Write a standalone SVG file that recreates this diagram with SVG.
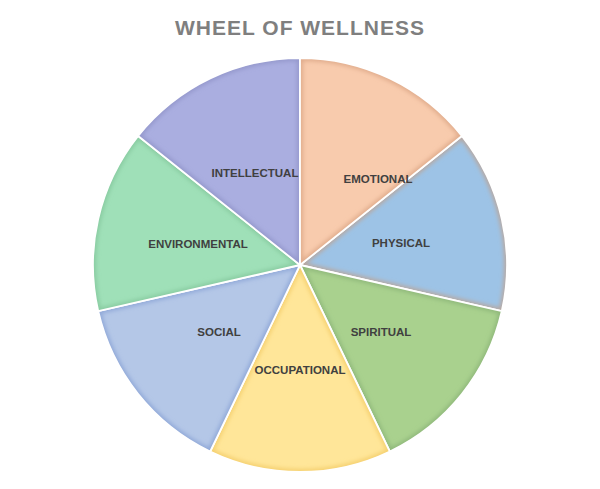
<svg xmlns="http://www.w3.org/2000/svg" width="600" height="489" viewBox="0 0 600 489">
<style>
.title{font-family:"Liberation Sans",Arial,sans-serif;font-weight:bold;font-size:21px;fill:#7f7f7f;letter-spacing:1px;text-anchor:middle}
.lbl{font-family:"Liberation Sans",Arial,sans-serif;font-weight:bold;font-size:11.5px;fill:#404040;text-anchor:middle}
.edge{fill:none;stroke-width:6;filter:url(#soft)}
.sep{fill:none;stroke:#fff;stroke-width:1.8;stroke-linejoin:round}
</style>
<defs>
<filter id="soft" x="-10%" y="-10%" width="120%" height="120%"><feGaussianBlur stdDeviation="2"/></filter>
<path id="p0" d="M300,265 L300,58 A207,207 0 0 1 461.84,135.94 Z"/>
<path id="p1" d="M300,265 L461.84,135.94 A207,207 0 0 1 501.81,311.06 Z"/>
<path id="p2" d="M300,265 L501.81,311.06 A207,207 0 0 1 389.81,451.5 Z"/>
<path id="p3" d="M300,265 L389.81,451.5 A207,207 0 0 1 210.19,451.5 Z"/>
<path id="p4" d="M300,265 L210.19,451.5 A207,207 0 0 1 98.19,311.06 Z"/>
<path id="p5" d="M300,265 L98.19,311.06 A207,207 0 0 1 138.16,135.94 Z"/>
<path id="p6" d="M300,265 L138.16,135.94 A207,207 0 0 1 300,58 Z"/>
<clipPath id="c0"><use href="#p0"/></clipPath>
<clipPath id="c1"><use href="#p1"/></clipPath>
<clipPath id="c2"><use href="#p2"/></clipPath>
<clipPath id="c3"><use href="#p3"/></clipPath>
<clipPath id="c4"><use href="#p4"/></clipPath>
<clipPath id="c5"><use href="#p5"/></clipPath>
<clipPath id="c6"><use href="#p6"/></clipPath>
</defs>
<text class="title" x="300" y="35">WHEEL OF WELLNESS</text>
<g id="physical">
<use href="#p1" fill="#9dc3e6"/>
<g clip-path="url(#c1)"><use href="#p1" class="edge" stroke="#b8a8a0"/></g>
<use href="#p1" class="sep"/>
<text class="lbl" x="401" y="247">PHYSICAL</text>
</g>
<g id="spiritual">
<use href="#p2" fill="#a9d18e"/>
<g clip-path="url(#c2)"><use href="#p2" class="edge" stroke="#8fb87a"/></g>
<use href="#p2" class="sep"/>
<text class="lbl" x="381" y="336">SPIRITUAL</text>
</g>
<g id="occupational">
<use href="#p3" fill="#ffe699"/>
<g clip-path="url(#c3)"><use href="#p3" class="edge" stroke="#f5d070"/></g>
<use href="#p3" class="sep"/>
<text class="lbl" x="300" y="374">OCCUPATIONAL</text>
</g>
<g id="social">
<use href="#p4" fill="#b4c7e7"/>
<g clip-path="url(#c4)"><use href="#p4" class="edge" stroke="#90a8d8"/></g>
<use href="#p4" class="sep"/>
<text class="lbl" x="219" y="336">SOCIAL</text>
</g>
<g id="environmental">
<use href="#p5" fill="#9fe0b8"/>
<g clip-path="url(#c5)"><use href="#p5" class="edge" stroke="#88cba0"/></g>
<use href="#p5" class="sep"/>
<text class="lbl" x="198" y="248">ENVIRONMENTAL</text>
</g>
<g id="intellectual">
<use href="#p6" fill="#aaaee0"/>
<g clip-path="url(#c6)"><use href="#p6" class="edge" stroke="#9498cc"/></g>
<use href="#p6" class="sep"/>
<text class="lbl" x="255" y="177">INTELLECTUAL</text>
</g>
<g id="emotional">
<use href="#p0" fill="#f8cbad"/>
<g clip-path="url(#c0)"><use href="#p0" class="edge" stroke="#e0ac8c"/></g>
<use href="#p0" class="sep"/>
<text class="lbl" x="378" y="183">EMOTIONAL</text>
</g>
</svg>
